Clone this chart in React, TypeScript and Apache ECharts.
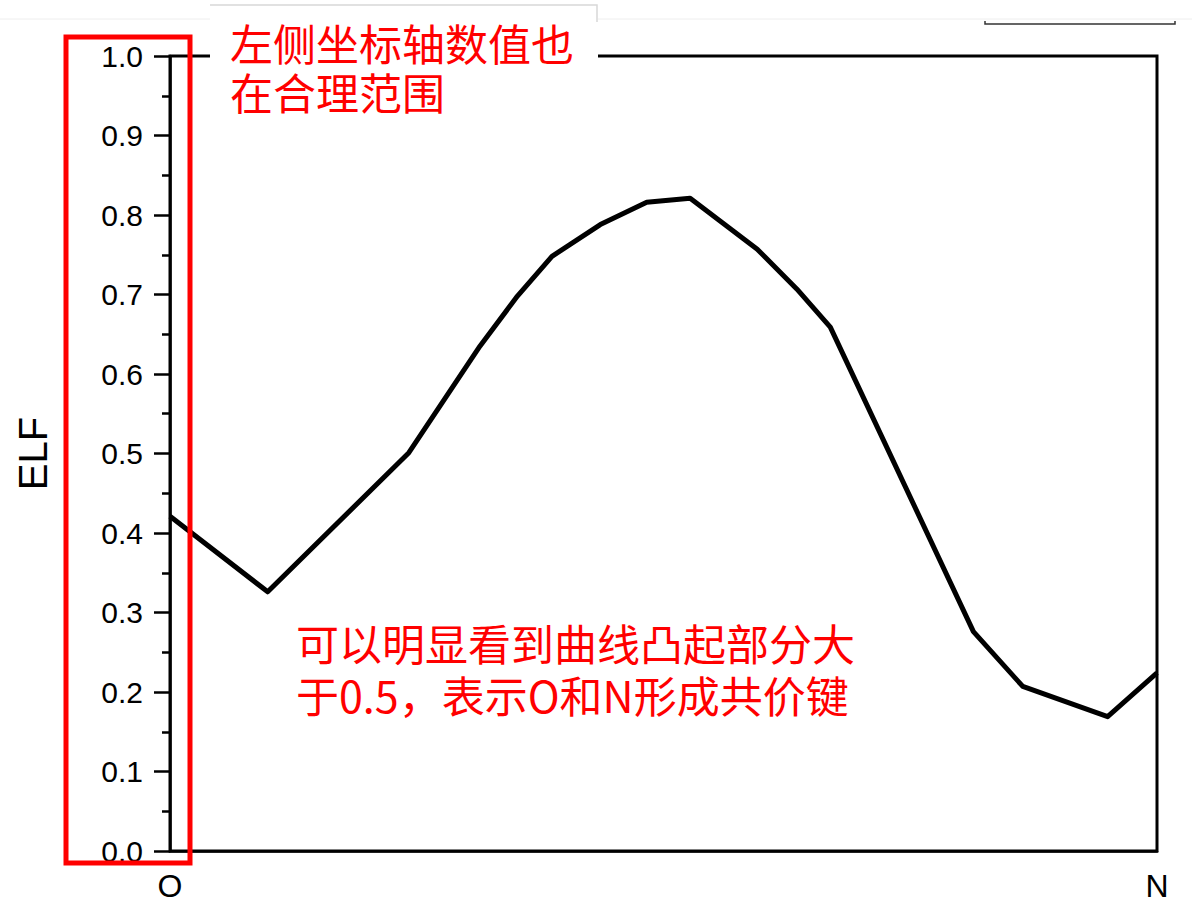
import { useEffect, useRef } from "react";
import * as echarts from "echarts";

// position along the O–N path (0 = O, 1 = N)
const positions = [0, 0.099, 0.242, 0.314, 0.352, 0.387, 0.436, 0.483, 0.527, 0.595, 0.635, 0.669, 0.814, 0.864, 0.95, 1];
const elfValues = [0.421, 0.326, 0.501, 0.635, 0.698, 0.748, 0.788, 0.816, 0.821, 0.757, 0.707, 0.659, 0.276, 0.207, 0.169, 0.224];
const endLabels = ["O", "N"];
const noteTop = ["左侧坐标轴数值也", "在合理范围"];
const noteMiddle = ["可以明显看到曲线凸起部分大", "于0.5，表示O和N形成共价键"];

const LATIN = "Arial, 'Liberation Sans', sans-serif";
const CJK = "'Noto Sans CJK SC', sans-serif";
const RED = "#ff0000";

// one text per line, centred vertically on the given y values
function noteText(lines: string[], x: number, ys: number[]) {
  return lines.map((line, i) => ({
    type: "text",
    z: 110,
    style: {
      text: line,
      x,
      y: ys[i],
      fill: RED,
      font: `43px ${CJK}`,
      align: "left",
      verticalAlign: "middle",
      textAlign: "left",
      textVerticalAlign: "middle",
    },
  }));
}

export default function App() {
  const chartDom = useRef<HTMLDivElement>(null);

  useEffect(() => {
    if (!chartDom.current) return;
    const chart = echarts.init(chartDom.current, undefined, { renderer: "svg" });

    chart.setOption({
      animation: false,
      backgroundColor: "#fff",
      grid: {
        left: 170,
        right: 35,
        top: 56,
        bottom: 72,
        outerBoundsMode: "none",
        containLabel: false,
        show: true,
        borderColor: "#000",
        borderWidth: 3,
      },
      xAxis: {
        type: "value",
        min: 0,
        max: 1,
        interval: 1,
        axisLine: { show: true, lineStyle: { color: "#000", width: 2.5 } },
        axisTick: { show: false },
        splitLine: { show: false },
        axisLabel: {
          margin: 19,
          color: "#000",
          fontFamily: LATIN,
          fontSize: 32,
          formatter: (v: number) => (v === 0 ? endLabels[0] : v === 1 ? endLabels[1] : ""),
        },
      },
      yAxis: {
        type: "value",
        min: 0,
        max: 1,
        interval: 0.1,
        name: "ELF",
        nameLocation: "middle",
        nameRotate: 90,
        nameGap: 117,
        nameTextStyle: { color: "#000", fontFamily: LATIN, fontSize: 40 },
        axisLine: { show: true, lineStyle: { color: "#000", width: 2.5 } },
        axisTick: { show: true, inside: false, length: 16, lineStyle: { color: "#000", width: 2.5 } },
        minorTick: { show: true, splitNumber: 2, length: 8, lineStyle: { color: "#000", width: 2.5 } },
        splitLine: { show: false },
        axisLabel: {
          margin: 27,
          color: "#000",
          fontFamily: LATIN,
          fontSize: 30,
          formatter: (v: number) => v.toFixed(1),
        },
      },
      series: [
        {
          type: "line",
          data: positions.map((p, i) => [p, elfValues[i]]),
          showSymbol: false,
          smooth: false,
          lineStyle: { color: "#000", width: 5, join: "round" },
        },
      ],
      graphic: [
        {
          type: "line",
          z: 100,
          shape: { x1: 0, y1: 19, x2: 1192, y2: 19 },
          style: { stroke: "#eeeeee", lineWidth: 1 },
        },
        {
          type: "rect",
          z: 101,
          shape: { x: 210, y: 5, width: 388, height: 112 },
          style: { fill: "#fff" },
        },
        {
          type: "polyline",
          z: 102,
          shape: { points: [[210, 5], [597, 5], [597, 22]] },
          style: { stroke: "#d8d8d8", lineWidth: 1.5, fill: "none" },
        },
        {
          type: "polyline",
          z: 102,
          shape: { points: [[985, 21], [985, 24], [1175, 24], [1175, 21]] },
          style: { stroke: "#333", lineWidth: 1.5, fill: "none" },
        },
        {
          type: "rect",
          z: 105,
          shape: { x: 66, y: 37, width: 124, height: 826 },
          style: { fill: "none", stroke: RED, lineWidth: 5 },
        },
        ...noteText(noteTop, 230, [42, 91]),
        ...noteText(noteMiddle, 296, [642, 694]),
      ],
    });

    return () => chart.dispose();
  }, []);

  return (
    <div
      ref={chartDom}
      style={{ position: "fixed", left: 0, top: 0, width: 1192, height: 923, background: "#fff" }}
    />
  );
}
